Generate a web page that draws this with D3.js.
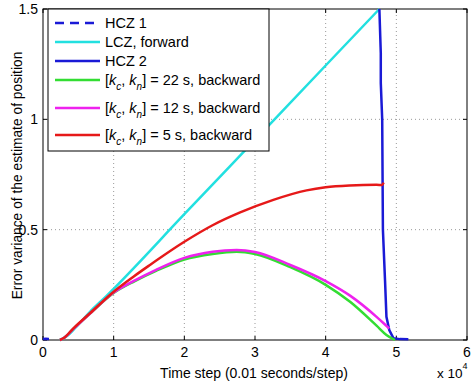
<!DOCTYPE html>
<html>
<head>
<meta charset="utf-8">
<script src="https://cdn.jsdelivr.net/npm/d3@7"></script>
<style>
  body { margin: 0; background: #fff; }
  svg { display: block; font-family: "Liberation Sans", Arial, sans-serif; }
</style>
</head>
<body>
<div id="chart"></div>
<script>
// x values in units of 1e4 time steps
const hcz1X = [0, 0.04, 0.08, 0.12]
const hcz1Y = [0.005, 0.006, 0.005, 0.005]

const lczX = [0.24, 0.35, 0.5, 0.665, 0.9, 1.0, 2.0, 3.0, 4.0, 4.76]
const lczY = [0, 0.02, 0.07, 0.128, 0.2, 0.232, 0.57, 0.907, 1.244, 1.5]

const hcz2X = [4.76, 4.78, 4.78, 4.80, 4.81, 4.84, 4.86, 4.90, 4.96, 5.05, 5.17]
const hcz2Y = [1.5, 1.3, 1.165, 1.0, 0.5, 0.27, 0.105, 0.045, 0.008, 0.004, 0.003]

const greenX = [0.24, 0.3, 0.43, 0.665, 1.0, 1.3, 1.6, 2.0, 2.4, 2.74, 3.0, 3.5, 4.0, 4.35, 4.72, 4.86, 4.98]
const greenY = [0, 0.01, 0.05, 0.12, 0.213, 0.267, 0.313, 0.365, 0.39, 0.4, 0.39, 0.33, 0.25, 0.172, 0.065, 0.023, 0]

const magentaX = [0.24, 0.3, 0.43, 0.665, 1.0, 1.3, 1.6, 2.0, 2.4, 2.74, 3.0, 3.5, 4.0, 4.35, 4.72, 4.82, 4.9]
const magentaY = [0, 0.01, 0.05, 0.12, 0.215, 0.27, 0.318, 0.372, 0.4, 0.408, 0.399, 0.34, 0.267, 0.2, 0.105, 0.076, 0.052]

const redX = [0.24, 0.3, 0.43, 0.665, 1.0, 1.28, 1.5, 2.0, 2.4, 2.79, 3.26, 3.73, 4.0, 4.34, 4.72, 4.8, 4.82]
const redY = [0, 0.01, 0.053, 0.121, 0.219, 0.287, 0.337, 0.445, 0.52, 0.578, 0.635, 0.678, 0.692, 0.70, 0.703, 0.702, 0.713]

const xTicks = [0, 1, 2, 3, 4, 5, 6]
const yTicks = [0, 0.5, 1, 1.5]

const width = 474, height = 383
const margin = {top: 9, right: 7, bottom: 43, left: 43}

const svg = d3.select("#chart").append("svg")
    .attr("width", width)
    .attr("height", height)

const x = d3.scaleLinear().domain([0, 6]).range([margin.left, width - margin.right])
const y = d3.scaleLinear().domain([0, 1.5]).range([height - margin.bottom, margin.top])

const x0 = margin.left, x1 = width - margin.right
const y0 = height - margin.bottom, y1 = margin.top

// dotted grid
const grid = svg.append("g").attr("stroke", "#999").attr("stroke-width", 1).attr("stroke-dasharray", "1,3")
grid.selectAll(".gx").data(xTicks.slice(1, -1)).join("line")
    .attr("x1", d => x(d)).attr("x2", d => x(d)).attr("y1", y0).attr("y2", y1)
grid.selectAll(".gy").data(yTicks.slice(1, -1)).join("line")
    .attr("y1", d => y(d)).attr("y2", d => y(d)).attr("x1", x0).attr("x2", x1)

// box + inward ticks
const axes = svg.append("g").attr("stroke", "#000").attr("stroke-width", 1)
axes.append("rect").attr("x", x0).attr("y", y1).attr("width", x1 - x0).attr("height", y0 - y1).attr("fill", "none")
xTicks.forEach(t => {
    axes.append("line").attr("x1", x(t)).attr("x2", x(t)).attr("y1", y0).attr("y2", y0 - 4)
    axes.append("line").attr("x1", x(t)).attr("x2", x(t)).attr("y1", y1).attr("y2", y1 + 4)
})
yTicks.forEach(t => {
    axes.append("line").attr("y1", y(t)).attr("y2", y(t)).attr("x1", x0).attr("x2", x0 + 4)
    axes.append("line").attr("y1", y(t)).attr("y2", y(t)).attr("x1", x1).attr("x2", x1 - 4)
})

svg.append("g").selectAll("text").data(xTicks).join("text")
    .attr("x", d => x(d)).attr("y", y0 + 17)
    .attr("text-anchor", "middle").attr("font-size", 14)
    .text(d => d)
svg.append("g").selectAll("text").data(yTicks).join("text")
    .attr("x", x0 - 5).attr("y", d => y(d) + 5)
    .attr("text-anchor", "end").attr("font-size", 14)
    .text(d => d)

svg.append("text").attr("x", 254).attr("y", 378).attr("text-anchor", "middle")
    .attr("font-size", 14).text("Time step (0.01 seconds/step)")
const mult = svg.append("text").attr("x", 437).attr("y", 378).attr("font-size", 13.5)
mult.append("tspan").text("x 10")
mult.append("tspan").attr("font-size", 9).attr("dy", -9).text("4")

svg.append("text")
    .attr("transform", "translate(22," + ((y0 + y1) / 2 + 1) + ") rotate(-90)")
    .attr("text-anchor", "middle").attr("font-size", 13.8)
    .text("Error variance of the estimate of position")

// curves
const series = [
    {xs: hcz1X, ys: hcz1Y, color: "#1a1ad6", dash: "6,4", curve: d3.curveLinear},
    {xs: lczX, ys: lczY, color: "#22e0e0", curve: d3.curveMonotoneX},
    {xs: hcz2X, ys: hcz2Y, color: "#1a1ad6", curve: d3.curveLinear},
    {xs: greenX, ys: greenY, color: "#33dd33", curve: d3.curveMonotoneX},
    {xs: magentaX, ys: magentaY, color: "#ee22ee", curve: d3.curveMonotoneX},
    {xs: redX, ys: redY, color: "#e61919", curve: d3.curveMonotoneX},
]
series.forEach(s => {
    const pts = s.xs.map((v, i) => [v, s.ys[i]])
    svg.append("path")
        .attr("d", d3.line().x(d => x(d[0])).y(d => y(d[1])).curve(s.curve)(pts))
        .attr("fill", "none")
        .attr("stroke", s.color)
        .attr("stroke-width", 2.5)
        .attr("stroke-dasharray", s.dash || null)
})

// legend
const legend = svg.append("g")
legend.append("rect").attr("x", 48).attr("y", 9).attr("width", 221).attr("height", 142)
    .attr("fill", "#fff").attr("stroke", "#000").attr("stroke-width", 1)
const legendRows = [
    {label: "HCZ 1", color: "#1a1ad6", dash: "9,6", y: 23},
    {label: "LCZ, forward", color: "#22e0e0", y: 42},
    {label: "HCZ 2", color: "#1a1ad6", y: 61},
    {kn: "22", color: "#33dd33", y: 80},
    {kn: "12", color: "#ee22ee", y: 108},
    {kn: "5", color: "#e61919", y: 135},
]
legendRows.forEach(r => {
    legend.append("line").attr("x1", 55).attr("x2", 100).attr("y1", r.y).attr("y2", r.y)
        .attr("stroke", r.color).attr("stroke-width", 2.5)
        .attr("stroke-dasharray", r.dash || null)
    const t = legend.append("text").attr("x", 105).attr("y", r.y + 5).attr("font-size", 14.5)
    if (r.label) {
        t.text(r.label)
    } else {
        t.append("tspan").text("[")
        t.append("tspan").attr("font-style", "italic").text("k")
        t.append("tspan").attr("font-style", "italic").attr("font-size", 10).attr("dy", 5).text("c")
        t.append("tspan").attr("dy", -5).text(", ")
        t.append("tspan").attr("font-style", "italic").text("k")
        t.append("tspan").attr("font-style", "italic").attr("font-size", 10).attr("dy", 5).text("n")
        t.append("tspan").attr("dy", -5).text("] = " + r.kn + " s, backward")
    }
})
</script>
</body>
</html>
